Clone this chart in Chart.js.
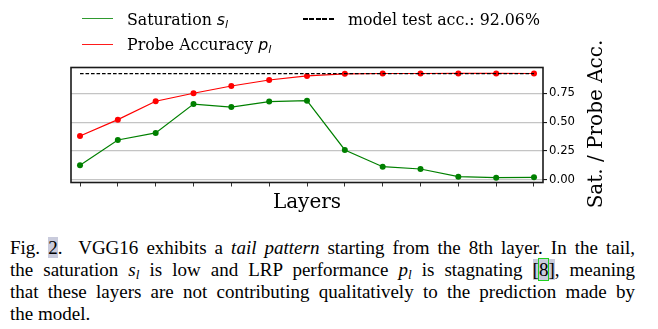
<!DOCTYPE html>
<html>
<head>
<meta charset="utf-8">
<script src="https://cdn.jsdelivr.net/npm/chart.js@4/dist/chart.umd.min.js"></script>
<style>
  html, body { margin:0; padding:0; background:#fff; }
  body { width:658px; height:329px; position:relative; overflow:hidden; }
  #wrap { position:absolute; left:0; top:0; width:658px; height:225px; }
  .leg { position:absolute; font-family:"DejaVu Serif", serif; font-size:15.8px; line-height:16px; color:#000; white-space:nowrap; }
  .m { font-family:"DejaVu Sans", sans-serif; font-style:italic; }
  .m sub { font-size:0.7em; vertical-align:-0.3em; line-height:0; }
  .sw { position:absolute; height:0; }
  #ytitle { position:absolute; left:494.6px; top:114px; width:200px; text-align:center; font-family:"DejaVu Serif", serif; font-size:20px; line-height:20px; transform:rotate(-90deg); white-space:nowrap; }
  #cap { position:absolute; left:10px; top:237.2px; width:625px; font-family:"Liberation Serif","Times New Roman",serif; font-size:19px; color:#000; }
  #cap .ln { height:21.9px; line-height:21.9px; text-align:justify; text-align-last:justify; white-space:nowrap; }
  #cap .ln.last { text-align:left; text-align-last:left; }
  #cap sub { font-size:0.7em; vertical-align:-0.25em; line-height:0; }
  .hl { background:#c9cbdc; }
  .bx { outline:1px solid #1fd11f; outline-offset:0px; }
</style>
</head>
<body>
<div id="wrap"><canvas id="c" width="658" height="225"></canvas></div>

<div class="sw" style="left:82px;top:18.4px;width:31px;border-top:1.3px solid #2f9a2f;"></div>
<div class="leg" style="left:127px;top:11.5px;">Saturation <span class="m">s<sub>l</sub></span></div>
<div class="sw" style="left:82px;top:43.6px;width:31px;border-top:1.3px solid #ff1a1a;"></div>
<div class="leg" style="left:127px;top:36.5px;">Probe Accuracy <span class="m">p<sub>l</sub></span></div>
<div class="sw" style="left:303px;top:18.4px;width:32px;height:1.3px;background:repeating-linear-gradient(to right,#000 0 4.6px,transparent 4.6px 6.5px);"></div>
<div class="leg" style="left:348px;top:11.5px;">model test acc.: 92.06%</div>

<div id="ytitle">Sat. / Probe Acc.</div>

<div id="cap">
  <div class="ln">Fig. <span class="hl">2</span>.&nbsp; VGG16 exhibits a <i>tail pattern</i> starting from the 8th layer. In the tail,</div>
  <div class="ln">the saturation <i>s</i><sub><i>l</i></sub> is low and LRP performance <i>p</i><sub><i>l</i></sub> is stagnating <span class="hl">[<span class="bx">8</span>]</span>, meaning</div>
  <div class="ln">that these layers are not contributing qualitatively to the prediction made by</div>
  <div class="ln last">the model.</div>
</div>

<script>
// ---- data ----
const layers = [1, 2, 3, 4, 5, 6, 7, 8, 9, 10, 11, 12, 13];
const saturation = [0.127, 0.346, 0.407, 0.657, 0.631, 0.678, 0.686, 0.26, 0.115, 0.095, 0.029, 0.020, 0.023];
const probeAccuracy = [0.381, 0.522, 0.681, 0.750, 0.813, 0.865, 0.900, 0.918, 0.921, 0.921, 0.922, 0.922, 0.921];
const modelTestAcc = 0.9206;
const yTicks = [0, 0.25, 0.5, 0.75];

const pts = (arr) => layers.map((x, i) => ({ x: x, y: arr[i] }));

const framePlugin = {
  id: 'frame',
  afterDatasetsDraw(chart) {
    const { ctx, chartArea: a } = chart;
    ctx.save();
    ctx.strokeStyle = '#1a1a1a';
    ctx.lineWidth = 1.6;
    ctx.strokeRect(a.left, a.top, a.right - a.left, a.bottom - a.top);
    ctx.restore();
  }
};

new Chart(document.getElementById('c'), {
  type: 'line',
  data: {
    datasets: [
      {
        label: 'model test acc.: 92.06%',
        data: [{ x: layers[0], y: modelTestAcc }, { x: layers[layers.length - 1], y: modelTestAcc }],
        borderColor: '#000', borderWidth: 1.2, borderDash: [3.6, 1.9],
        pointRadius: 0, order: 0
      },
      {
        label: 'Probe Accuracy',
        data: pts(probeAccuracy),
        borderColor: '#ff0000', backgroundColor: '#ff0000', borderWidth: 1.2,
        pointRadius: 3, pointBorderWidth: 0, pointBackgroundColor: '#ff0000', order: 1
      },
      {
        label: 'Saturation',
        data: pts(saturation),
        borderColor: '#008000', backgroundColor: '#008000', borderWidth: 1.2,
        pointRadius: 3, pointBorderWidth: 0, pointBackgroundColor: '#008000', order: 2
      }
    ]
  },
  options: {
    responsive: false,
    animation: false,
    devicePixelRatio: 1,
    layout: { padding: { left: 71, top: 67.5, right: 0, bottom: 10.5 } },
    plugins: { legend: { display: false }, tooltip: { enabled: false } },
    elements: { line: { tension: 0 } },
    scales: {
      x: {
        type: 'linear',
        min: 0.762, max: 13.238,
        afterBuildTicks: (s) => { s.ticks = layers.map(v => ({ value: v })); },
        ticks: { display: false },
        grid: { drawOnChartArea: false, drawTicks: true, tickLength: 4, tickColor: '#333', tickWidth: 1 },
        border: { display: false },
        title: { display: true, text: 'Layers', color: '#000', font: { family: 'DejaVu Serif', size: 20 }, padding: { top: 4, bottom: 0 } }
      },
      y: {
        position: 'right',
        min: -0.0216, max: 0.973,
        afterBuildTicks: (s) => { s.ticks = yTicks.map(v => ({ value: v })); },
        afterFit: (s) => { s.width = 115; },
        ticks: {
          padding: 2, color: '#000',
          font: { family: 'DejaVu Sans', size: 11.7 },
          callback: (v) => Number(v).toFixed(2)
        },
        grid: { color: '#c4c4c4', lineWidth: 1.2, tickLength: 4, tickColor: '#000', tickWidth: 1 },
        border: { display: false }
      }
    }
  },
  plugins: [framePlugin]
});
</script>
</body>
</html>
